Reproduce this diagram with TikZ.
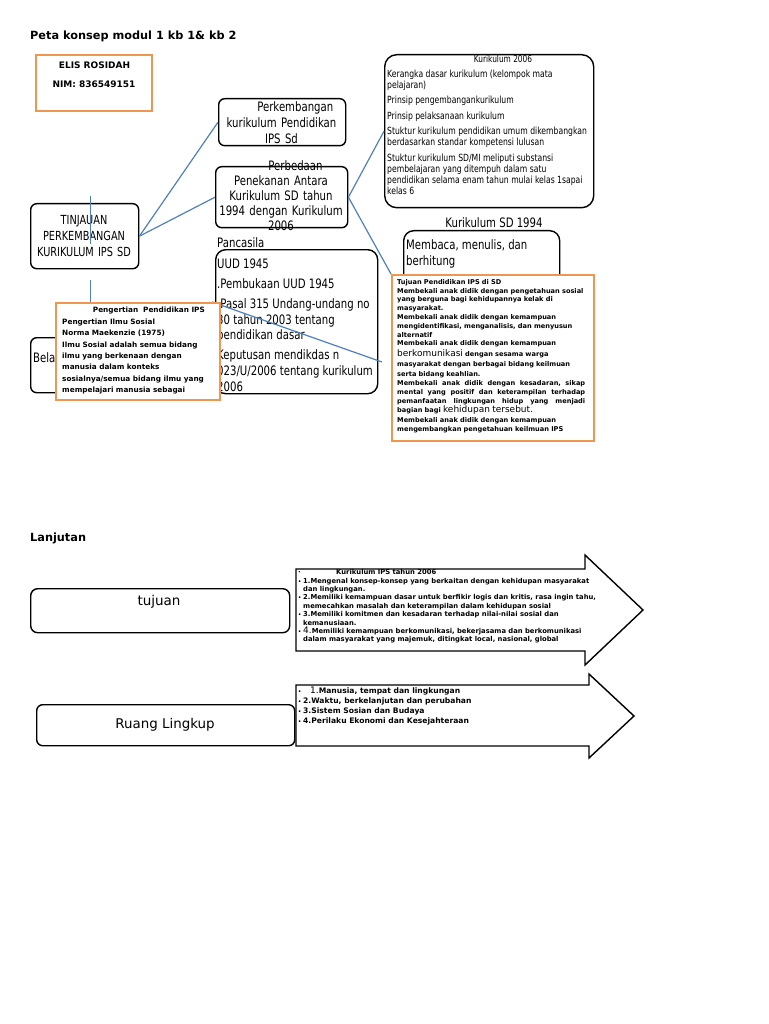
\documentclass[tikz,border=0pt]{standalone}
\usepackage{fontspec}
\setmainfont{DejaVu Sans}
\newfontfamily\cond{DejaVu Sans}[FakeStretch=0.78]
\newcommand\fsz[2]{\fontsize{#1}{#2}\selectfont}
\newcommand\jline[1]{\leavevmode\hbox to 188pt{#1}}
\definecolor{orng}{RGB}{240,150,80}
\definecolor{blu}{RGB}{79,129,189}
\tikzset{
  wh/.style 2 args={minimum width=#1pt, minimum height=#2pt},
  cbox/.style={draw=black, line width=1.4pt, rounded corners=6pt, inner sep=0pt, anchor=north west},
  obox/.style={draw=orng, line width=1.8pt, fill=white, inner sep=0pt, anchor=north west},
  conn/.style={draw=blu, line width=1.2pt},
  txt/.style={inner sep=0pt, anchor=north west, align=left},
  lbl/.style={inner sep=0pt, anchor=base west},
  arr/.style={draw=black, line width=1.4pt, fill=white, line join=miter},
}
\begin{document}
\begin{tikzpicture}[x=1pt,y=-1pt]
\fill[white] (0,0) rectangle (768,1024);
\useasboundingbox (0,0) rectangle (768,1024);

% title and name
\node[lbl, font=\bfseries\fsz{11.3}{13}] (title) at (30,40) {Peta konsep modul 1 kb 1\& kb 2};
\node[obox, wh={116}{56}] (elis) at (35,54) {};
\node[inner sep=0pt, anchor=base, font=\bfseries\fsz{9}{11}] (elisn) at (94.5,68.3) {ELIS ROSIDAH};
\node[inner sep=0pt, anchor=base, font=\bfseries\fsz{9}{11}] (nim) at (94,87.3) {NIM: 836549151};

% concept boxes
\node[cbox, wh={108}{65}] (tinj) at (30,203) {};
\node[txt, anchor=north, align=center, text width=110pt, font=\cond\fsz{12.5}{15.6}] (tinjT) at (84,215.5) {TINJAUAN\\PERKEMBANGAN\\KURIKULUM IPS SD};

\node[cbox, wh={127}{47}] (perk) at (218,98) {};
\node[txt, anchor=north, align=center, text width=135pt, font=\cond\fsz{13}{15.7}] (perkT) at (281.5,101.6) {\hspace*{27.6pt}Perkembangan\\kurikulum Pendidikan\\IPS Sd};

\node[cbox, wh={132}{61}] (perb) at (215,166) {};
\node[txt, anchor=north, align=center, text width=140pt, font=\cond\fsz{13}{15.2}] (perbT) at (281,160.1) {\hspace*{29pt}Perbedaan\\Penekanan Antara\\Kurikulum SD tahun\\1994 dengan Kurikulum\\2006};

\node[cbox, wh={209}{153}, rounded corners=12pt] (k2006) at (384,54) {};
\node[inner sep=0pt, anchor=base, font=\cond\fsz{9.5}{11}] (k2006T) at (503,62.5) {Kurikulum 2006};
\node[txt, font=\cond\fsz{9.85}{11}] (k2006L) at (387,69.8) {Kerangka dasar kurikulum (kelompok mata\\pelajaran)\\[4.5pt]
Prinsip pengembangankurikulum\\[4.5pt]
Prinsip pelaksanaan kurikulum\\[4.5pt]
Stuktur kurikulum pendidikan umum dikembangkan\\berdasarkan standar kompetensi lulusan\\[4.5pt]
Stuktur kurikulum SD/MI meliputi substansi\\pembelajaran yang ditempuh dalam satu\\pendidikan selama enam tahun mulai kelas 1sapai\\kelas 6};

\node[inner sep=0pt, anchor=base, font=\cond\fsz{13}{15}] (k1994T) at (494,228) {Kurikulum SD 1994};
\node[cbox, wh={156}{70}, rounded corners=10pt] (k1994) at (403,230) {};
\node[txt, font=\cond\fsz{13}{16.7}] (k1994L) at (406,239.1) {Membaca, menulis, dan\\berhitung};

\node[lbl, font=\cond\fsz{13}{15}] (panc) at (217,247.8) {Pancasila};
\node[cbox, wh={162}{144}, rounded corners=10pt] (uud) at (215,249) {};
\node[txt, font=\cond\fsz{13}{15.8}] (uudL) at (217,258.5) {UUD 1945\\[4.2pt]
.Pembukaan UUD 1945\\[4.2pt]
.Pasal 315 Undang-undang no\\30 tahun 2003 tentang\\pendidikan dasar\\[4.2pt]
Keputusan mendikdas n\\023/U/2006 tentang kurikulum\\2006};

\node[cbox, wh={60}{55}] (bela) at (30,337) {};
\node[lbl, font=\cond\fsz{13}{15}] (belaT) at (33,362.5) {Bela};

% connectors
\coordinate (v1a) at (90.5,196);
\coordinate (v1b) at (90.5,244);
\coordinate (v2a) at (90.5,280);
\coordinate (dga) at (212,302);
\coordinate (dgb) at (382,362);
\draw[conn] (tinj.east) -- (perk.west);
\draw[conn] (tinj.east) -- (perb.west);
\draw[conn] (perb.east) -- (k2006.west);
\draw[conn] (v1a) -- (v1b);
\draw[conn] (dga) -- (dgb);

% orange boxes drawn on top
\node[obox, wh={202}{166}] (tuju) at (391,274) {};
\draw[conn] (perb.east) -- (tuju.north west);
\node[txt, text width=192pt, font=\bfseries\fsz{6.6}{8.8}] (tujuL) at (397,279) {Tujuan Pendidikan IPS di SD\\
Membekali anak didik dengan pengetahuan sosial\\
yang berguna bagi kehidupannya kelak di\\
masyarakat.\\
Membekali anak didik dengan kemampuan\\
mengidentifikasi, menganalisis, dan menyusun\\
alternatif\\
Membekali anak didik dengan kemampuan\\[1.4pt]
{\mdseries\fsz{9}{8.8}berkomunikasi} dengan sesama warga\\[1.2pt]
masyarakat dengan berbagai bidang keilmuan\\[1.2pt]
serta bidang keahlian.\\[0.8pt]
\jline{Membekali\hfill anak\hfill didik\hfill dengan\hfill kesadaran,\hfill sikap}\\
\jline{mental\hfill yang\hfill positif\hfill dan\hfill keterampilan\hfill terhadap}\\
\jline{pemanfaatan\hfill lingkungan\hfill hidup\hfill yang\hfill menjadi}\\[0.6pt]
bagian bagi {\mdseries\fsz{9}{8.8}kehidupan tersebut.}\\[0.7pt]
Membekali anak didik dengan kemampuan\\[0.7pt]
mengembangkan pengetahuan keilmuan IPS};

\node[obox, wh={164}{97}] (peng) at (55,302) {};
\draw[conn] (v2a) -- (v2a |- peng.north);
\node[txt, text width=160pt, font=\bfseries\fsz{7.3}{11.3}] (pengL) at (62,307) {\hspace*{30.7pt}Pengertian\ \ Pendidikan IPS\\[0.5pt]
Pengertian Ilmu Sosial\\
Norma Maekenzie (1975)\\
Ilmu Sosial adalah semua bidang\\
ilmu yang berkenaan dengan\\
manusia dalam konteks\\
sosialnya/semua bidang ilmu yang\\
mempelajari manusia sebagai};

% lower part
\node[lbl, font=\bfseries\fsz{11.3}{13}] (lanj) at (30,541) {Lanjutan};

\node[cbox, wh={259}{44}, rounded corners=7pt] (tujb) at (30,588) {};
\node[inner sep=0pt, anchor=base, font=\fsz{13.5}{16}] (tujbT) at (159,605) {tujuan};

\draw[arr] (296,569) -- (585,569) -- (585,555) -- (643,610) -- (585,665) -- (585,651) -- (296,651) -- cycle;
\node[txt, font=\bfseries\fsz{6.8}{8.4}] (arr1L) at (298,569.3) {\rlap{·}\hspace*{38pt}Kurikulum IPS tahun 2006\\
\rlap{\fsz{5}{8.4}•}\hspace*{5pt}1.Mengenal konsep-konsep yang berkaitan dengan kehidupan masyarakat\\
\hspace*{5pt}dan lingkungan.\\
\rlap{\fsz{5}{8.4}•}\hspace*{5pt}2.Memiliki kemampuan dasar untuk berfikir logis dan kritis, rasa ingin tahu,\\
\hspace*{5pt}memecahkan masalah dan keterampilan dalam kehidupan sosial\\
\rlap{\fsz{5}{8.4}•}\hspace*{5pt}3.Memiliki komitmen dan kesadaran terhadap nilai-nilai sosial dan\\
\hspace*{5pt}kemanusiaan.\\
\rlap{\fsz{5}{8.4}•}\hspace*{5pt}{\mdseries\fsz{9}{8.4}4.}Memiliki kemampuan berkomunikasi, bekerjasama dan berkomunikasi\\
\hspace*{5pt}dalam masyarakat yang majemuk, ditingkat local, nasional, global};

\node[cbox, wh={258}{41}] (ruang) at (36,704) {};
\node[inner sep=0pt, anchor=base, font=\fsz{13.4}{16}] (ruangT) at (165,728.5) {Ruang Lingkup};

\draw[arr] (296,685) -- (589,685) -- (589,674) -- (634,716) -- (589,758) -- (589,746) -- (296,746) -- cycle;
\node[txt, font=\bfseries\fsz{7.6}{10}] (arr2L) at (298,686.9) {\rlap{\fsz{5}{10}•}\hspace*{12pt}{\mdseries\fsz{9}{10}1.}Manusia, tempat dan lingkungan\\
\rlap{\fsz{5}{10}•}\hspace*{5pt}2.Waktu, berkelanjutan dan perubahan\\
\rlap{\fsz{5}{10}•}\hspace*{5pt}3.Sistem Sosian dan Budaya\\
\rlap{\fsz{5}{10}•}\hspace*{5pt}4.Perilaku Ekonomi dan Kesejahteraan};
\end{tikzpicture}
\end{document}
